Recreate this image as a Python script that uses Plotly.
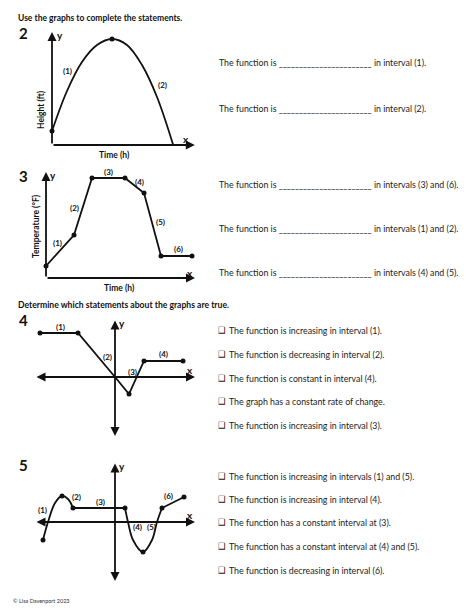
import plotly.graph_objects as go

W, H = 474, 612
FONT = "Lato"
INK = "#111111"

# ---- graph 2: height vs time (parabola) ----
g2_t = [0, 1.25, 2.5, 3.75, 5, 6.25, 7.5, 8.75, 10.1]
g2_h = [1.4, 5.4, 8.3, 10.0, 10.6, 10.0, 8.0, 4.8, 0]
g2_dots_t = [0, 5]
g2_dots_h = [1.4, 10.6]
g2_labels = [("(1)", 1.3, 7.4), ("(2)", 9.2, 6.0)]

# ---- graph 3: temperature vs time ----
g3_t = [0, 2.8, 4.6, 7.9, 9.8, 11.5, 14.6]
g3_temp = [1.2, 4.3, 10, 10, 8.5, 2.2, 2.2]
g3_labels = [("(1)", 1.1, 3.5), ("(2)", 2.8, 7.0), ("(3)", 6.2, 10.6),
             ("(4)", 9.3, 9.6), ("(5)", 11.4, 5.6), ("(6)", 13.2, 2.9)]

# ---- graph 4 ----
g4_x = [-7.5, -3.7, 0, 1.4, 2.9, 6.8]
g4_y = [4.4, 4.4, 0, -1.7, 1.6, 1.6]
g4_dots_x = [-7.5, -3.7, 1.4, 2.9, 6.8]
g4_dots_y = [4.4, 4.4, -1.7, 1.6, 1.6]
g4_labels = [("(1)", -5.5, 5.0), ("(2)", -0.8, 2.0), ("(3)", 1.7, 0.5), ("(4)", 4.8, 2.3)]

# ---- graph 5 ----
g5_a_x = [-7.2, -6.7, -6.0, -5.3, -4.7, -4.2]
g5_a_y = [-1.8, 0, 1.9, 2.6, 2.3, 1.4]
g5_b_x = [-4.2, 1.0]
g5_b_y = [1.4, 1.4]
g5_c_x = [1.0, 1.3, 1.8, 2.8, 3.7, 4.2, 4.7]
g5_c_y = [1.4, 0, -1.8, -3.0, -1.8, 0, 1.4]
g5_d_x = [4.7, 6.9]
g5_d_y = [1.4, 2.5]
g5_dots_x = [-7.2, -5.3, -4.2, 1.0, 2.8, 4.7, 6.9]
g5_dots_y = [-1.8, 2.6, 1.4, 1.4, -3.0, 1.4, 2.5]
g5_labels = [("(1)", -7.3, 1.2), ("(2)", -3.9, 2.5), ("(3)", -1.5, 2.0),
             ("(4)", 2.2, -0.5), ("(5)", 3.6, -0.5), ("(6)", 5.3, 2.6)]

# statements
q2_lines = ["in interval (1).", "in interval (2)."]
q3_lines = ["in intervals (3) and (6).", "in intervals (1) and (2).", "in intervals (4) and (5)."]
q4_lines = ["The function is increasing in interval (1).",
            "The function is decreasing in interval (2).",
            "The function is constant in interval (4).",
            "The graph has a constant rate of change.",
            "The function is increasing in interval (3)."]
q5_lines = ["The function is increasing in intervals (1) and (5).",
            "The function is increasing in interval (4).",
            "The function has a constant interval at (3).",
            "The function has a constant interval at (4) and (5).",
            "The function is decreasing in interval (6)."]

fig = go.Figure()
annotations = []

# each panel: origin in pixels, pixel scale, axis ranges
panels = [
    dict(ox=52, oy=145, sx=12, sy=10, xr=[-1.2, 13.5], yr=[-1.2, 12.5]),
    dict(ox=46, oy=278, sx=10, sy=10, xr=[-1.2, 15.8], yr=[-1.2, 11.5]),
    dict(ox=115, oy=377, sx=10, sy=10, xr=[-8.5, 8.5], yr=[-6.2, 6.2]),
    dict(ox=115, oy=522, sx=10, sy=10, xr=[-8.5, 8.5], yr=[-6.2, 6.2]),
]

layout_axes = {}
for i, p in enumerate(panels, start=1):
    sfx = "" if i == 1 else str(i)
    xd = [(p["ox"] + p["xr"][0] * p["sx"]) / W, (p["ox"] + p["xr"][1] * p["sx"]) / W]
    yd = [1 - (p["oy"] - p["yr"][0] * p["sy"]) / H, 1 - (p["oy"] - p["yr"][1] * p["sy"]) / H]
    layout_axes["xaxis" + sfx] = dict(domain=xd, range=p["xr"], visible=False, fixedrange=True,
                                      anchor="y" + sfx)
    layout_axes["yaxis" + sfx] = dict(domain=yd, range=p["yr"], visible=False, fixedrange=True,
                                      anchor="x" + sfx)


def line(x, y, ax, shape="linear"):
    fig.add_trace(go.Scatter(x=x, y=y, mode="lines", line=dict(color=INK, width=1.8, shape=shape,
                                                              smoothing=1.0),
                             xaxis="x" + ax, yaxis="y" + ax, hoverinfo="skip", showlegend=False))


def dots(x, y, ax):
    fig.add_trace(go.Scatter(x=x, y=y, mode="markers", marker=dict(color=INK, size=5),
                             xaxis="x" + ax, yaxis="y" + ax, hoverinfo="skip", showlegend=False))


def arrow(ax, x0, y0, x1, y1, both=False):
    annotations.append(dict(x=x1, y=y1, ax=x0, ay=y0, xref="x" + ax, yref="y" + ax,
                            axref="x" + ax, ayref="y" + ax, text="", showarrow=True,
                            arrowhead=2, arrowsize=1, arrowwidth=1.8, arrowcolor=INK,
                            arrowside="end+start" if both else "end", standoff=0, startstandoff=0))


def label(ax, txt, x, y, size=8):
    annotations.append(dict(x=x, y=y, xref="x" + ax, yref="y" + ax, text="<b>%s</b>" % txt,
                            showarrow=False, font=dict(family=FONT, size=size, color=INK)))


def ptext(txt, px, py, size=8, bold=False, anchor="left", angle=0, color="#222222", family=FONT):
    annotations.append(dict(x=px / W, y=1 - py / H, xref="paper", yref="paper",
                            text=("<b>%s</b>" % txt) if bold else txt, showarrow=False,
                            xanchor=anchor, yanchor="middle", textangle=angle, borderpad=0,
                            font=dict(family=family, size=size, color=color)))


# graph 2
line(g2_t, g2_h, "", "spline")
dots(g2_dots_t, g2_dots_h, "")
arrow("", 0, 0, 0, 11.3)
arrow("", 0, 0, 11.9, 0)
for t, x, y in g2_labels:
    label("", t, x, y)
label("", "y", 0.7, 11.0, 10)
label("", "x", 11.2, 0.6, 10)

# graph 3
line(g3_t, g3_temp, "2")
dots(g3_t, g3_temp, "2")
arrow("2", 0, 0, 0, 10.6)
arrow("2", 0, 0, 14.9, 0)
for t, x, y in g3_labels:
    label("2", t, x, y)
label("2", "y", 0.7, 10.3, 10)
label("2", "x", 14.4, 0.5, 10)

# graph 4
arrow("3", -8, 0, 8, 0, both=True)
arrow("3", 0, 5.8, 0, -5.9, both=True)
line(g4_x, g4_y, "3")
dots(g4_dots_x, g4_dots_y, "3")
for t, x, y in g4_labels:
    label("3", t, x, y)
label("3", "y", 0.7, 5.4, 10)
label("3", "x", 7.5, 0.7, 10)

# graph 5
arrow("4", -8, 0, 8, 0, both=True)
arrow("4", 0, 6.0, 0, -5.9, both=True)
line(g5_a_x, g5_a_y, "4", "spline")
line(g5_b_x, g5_b_y, "4")
line(g5_c_x, g5_c_y, "4", "spline")
line(g5_d_x, g5_d_y, "4")
dots(g5_dots_x, g5_dots_y, "4")
for t, x, y in g5_labels:
    label("4", t, x, y)
label("4", "y", 0.7, 5.6, 10)
label("4", "x", 7.5, 0.7, 10)

# headings and axis titles
ptext("Use the graphs to complete the statements.", 17, 18, 8.5, bold=True, color=INK)
ptext("2", 18, 33, 15, bold=True, color=INK)
ptext("3", 18, 176, 15, bold=True, color=INK)
ptext("Determine which statements about the graphs are true.", 17, 305, 8.6, bold=True, color=INK)
ptext("4", 18, 320, 15, bold=True, color=INK)
ptext("5", 18, 465, 15, bold=True, color=INK)
ptext("Height (ft)", 41, 110, 8.5, bold=True, anchor="center", angle=-90, color=INK)
ptext("Time (h)", 114, 155, 8.5, bold=True, anchor="center", color=INK)
ptext("Temperature (°F)", 36, 226, 8.5, bold=True, anchor="center", angle=-90, color=INK)
ptext("Time (h)", 119, 288, 8.5, bold=True, anchor="center", color=INK)
ptext("© Lisa Davenport 2023", 12, 601, 5.5, color="#333333")

blank = "_" * 23
for txt, py in zip(q2_lines, [63, 108]):
    ptext("The function is " + blank + " " + txt, 218, py, 8.8)
for txt, py in zip(q3_lines, [184, 228, 272]):
    ptext("The function is " + blank + " " + txt, 218, py, 8.8)
for txt, py in zip(q4_lines, [330, 354, 378, 401, 425]):
    ptext("❑", 217, py, 8.5, family="DejaVu Sans", color=INK)
    ptext(txt, 228, py, 8.8)
for txt, py in zip(q5_lines, [476, 499, 522, 546, 570]):
    ptext("❑", 217, py, 8.5, family="DejaVu Sans", color=INK)
    ptext(txt, 228, py, 8.8)

fig.update_layout(width=W, height=H, margin=dict(l=0, r=0, t=0, b=0),
                  paper_bgcolor="white", plot_bgcolor="rgba(0,0,0,0)",
                  annotations=annotations, **layout_axes)

fig.write_html("out.html", config={"displayModeBar": False},
               post_script="document.body.style.margin='0';")
